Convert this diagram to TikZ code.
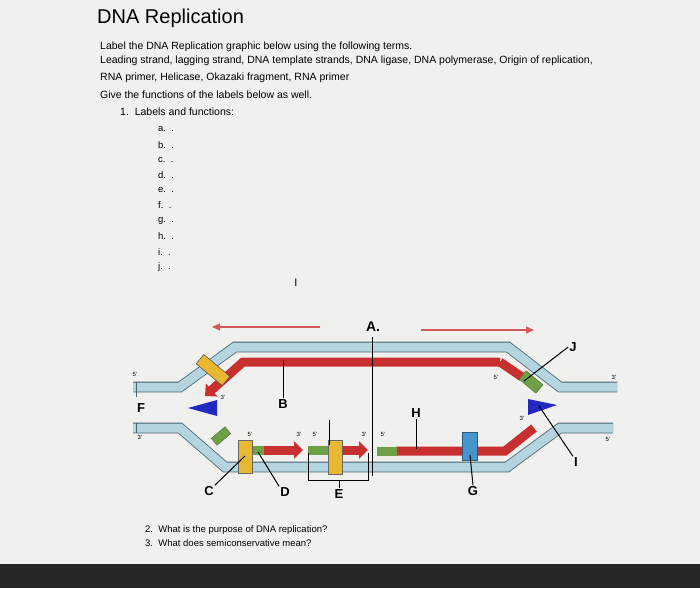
\documentclass[tikz,border=0pt]{standalone}
\usepackage{fontspec}
\setmainfont{Liberation Sans}
\usetikzlibrary{arrows.meta}
\definecolor{bg}{RGB}{240,240,238}
\definecolor{lb}{RGB}{180,212,224}
\definecolor{outl}{RGB}{70,100,112}
\definecolor{rd}{RGB}{200,48,48}
\definecolor{gr}{RGB}{110,160,70}
\definecolor{yl}{RGB}{232,184,48}
\definecolor{bl}{RGB}{35,40,190}
\definecolor{cy}{RGB}{70,150,205}
\tikzset{
  strand/.style={draw=outl,line width=0.8pt,double=lb,double distance=9pt,line join=miter},
  rna/.style={draw=rd,line width=9pt,line join=miter},
  rnaarr/.style={rna,-{Triangle[width=17pt,length=9pt]}},
  prim/.style={fill=gr,draw=gr!60!black,line width=0.3pt},
  lbl/.style={font=\bfseries\fontsize{13}{13}\selectfont,inner sep=1pt},
  pr/.style={font=\fontsize{6}{6}\selectfont,inner sep=0pt},
  ptr/.style={line width=1pt,black},
  txt/.style={anchor=west,font=\fontsize{10.5}{12}\selectfont,inner sep=0pt},
}
\begin{document}
\begin{tikzpicture}[x=1pt,y=-1pt]
\fill[bg] (0,0) rectangle (700,588);
\fill[black!85] (0,564) rectangle (700,588);
\useasboundingbox (0,0) rectangle (700,588);
% text
\node[anchor=west,inner sep=0pt,font=\fontsize{20}{20}\selectfont] (title) at (97,18) {DNA Replication};
\node[txt] (t1) at (100,47) {Label the DNA Replication graphic below using the following terms.};
\node[txt] (t2) at (100,61) {Leading strand, lagging strand, DNA template strands, DNA ligase, DNA polymerase, Origin of replication,};
\node[txt] (t3) at (100,78) {RNA primer, Helicase, Okazaki fragment, RNA primer};
\node[txt] (t4) at (100,95) {Give the functions of the labels below as well.};
\node[txt] (t5) at (120,112) {1.\ \ Labels and functions:};
\foreach \l/\y in {a./129,b./145,c./160,d./175,e./190,f./205,g./221,h./236,i./252,j./267}
  \node[txt,font=\fontsize{9.5}{10}\selectfont] at (158,\y) {\l\ \ .};
\node[font=\fontsize{11}{11}\selectfont] (cur) at (296,283) {I};
\node[txt,font=\fontsize{9.5}{11}\selectfont] (q2) at (145,530) {2.\ \ What is the purpose of DNA replication?};
\node[txt,font=\fontsize{9.5}{11}\selectfont] (q3) at (145,543) {3.\ \ What does semiconservative mean?};
% direction arrows
\coordinate (la1) at (320,327); \coordinate (la2) at (212,327);
\coordinate (ra1) at (421,330); \coordinate (ra2) at (534,330);
\draw[rd!80,line width=1.3pt,-{Triangle[width=7pt,length=8pt]}] (la1) -- (la2);
\draw[rd!80,line width=1.3pt,-{Triangle[width=7pt,length=8pt]}] (ra1) -- (ra2);
% template strands
\draw[strand] (133,387) -- (180,387) -- (235,347) -- (508,347) -- (560,387) -- (617,387);
\draw[strand] (133,428) -- (180,428) -- (225,467) -- (507,467) -- (560,428) -- (613,428);
\draw[outl,line width=0.8pt] (136,382) -- (136,397) (136,423) -- (136,433);
% leading strand top
\draw[rnaarr] (500,362) -- (243,362) -- (205,396);
\draw[rna] (500,362) -- (522,377);
\node[prim,minimum width=22pt,minimum height=11pt,rotate=-40,inner sep=0pt] (jp) at (531,382) {};
% helicase
\node[fill=yl,draw=black!70,line width=0.5pt,minimum width=34pt,minimum height=12pt,rotate=-40,inner sep=0pt] (hel) at (213,370) {};
% blue triangles
\fill[bl] (188,408) -- (217,400) -- (217,416) -- cycle;
\fill[bl] (557,405) -- (528,399) -- (528,415) -- cycle;
% lagging fragments
\node[prim,minimum width=18pt,minimum height=9pt,rotate=40,inner sep=0pt] (gp) at (221,436) {};
\draw[rnaarr] (263,450) -- (303,450);
\fill[gr] (253,445.5) rectangle (264,454.5);
\node[fill=yl,draw=black!60,line width=0.4pt,minimum width=14pt,minimum height=33pt,inner sep=0pt] (y1) at (245,457) {};
\draw[rnaarr] (328,450) -- (368,450);
\fill[gr] (308,445.5) rectangle (329,454.5);
\node[fill=yl,draw=black!60,line width=0.4pt,minimum width=14pt,minimum height=34pt,inner sep=0pt] (y2) at (335,457) {};
\draw[rna] (396,451) -- (505,451) -- (534,428);
\fill[gr] (377,446.5) rectangle (397,455.5);
\node[fill=cy,draw=cy!60!black,line width=0.4pt,minimum width=15pt,minimum height=28pt,inner sep=0pt] (gb) at (470,446) {};
% primes
\foreach \p/\x/\y in {5'/135/374,3'/140/437,3'/223/397,5'/250/434,3'/299/434,5'/315/434,3'/364/434,5'/383/434,5'/496/377,3'/614/377,3'/522/418,5'/608/439}
  \node[pr] at (\x,\y) {\p};
% labels and pointers
\node[lbl,font=\bfseries\fontsize{14}{14}\selectfont] (A) at (373,327) {A.};
\draw[ptr] (372,337) -- (372,476);
\node[lbl] (B) at (283,404) {B};
\draw[ptr] (283,360) -- (B.north);
\node[lbl] (C) at (209,491) {C};
\draw[ptr] (245,456) -- (C.north east);
\node[lbl] (D) at (285,492) {D};
\draw[ptr] (258,452) -- (D.north west);
\node[lbl] (E) at (339,494) {E};
\draw[ptr] (308,453) -- (308,480) -- (368,480) -- (368,453);
\draw[ptr] (339,480) -- (E.north);
\coordinate (ep) at (329,420); \draw[ptr] (ep) -- (329,445);
\node[lbl] (F) at (141,408) {F};
\node[lbl] (G) at (473,491) {G};
\draw[ptr] (470,455) -- (G.north);
\node[lbl] (H) at (416,413) {H};
\draw[ptr] (H.south) -- (416,449);
\node[lbl] (I) at (576,462) {I};
\draw[ptr] (539,406) -- (I.north west);
\node[lbl] (J) at (573,347) {J};
\draw[ptr] (J.west) -- (524,381);
\end{tikzpicture}
\end{document}
